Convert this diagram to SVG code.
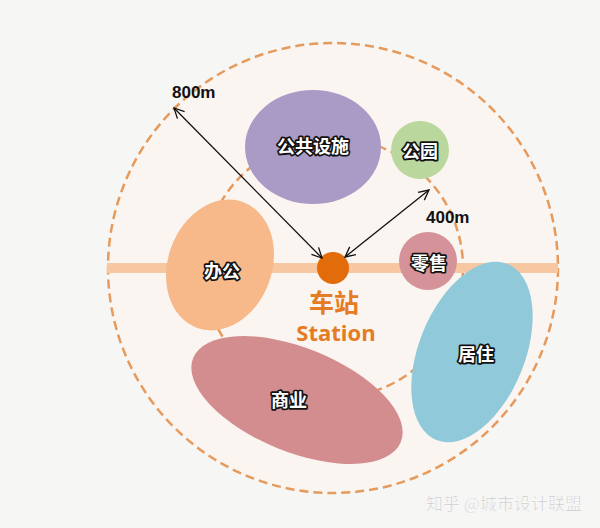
<svg xmlns="http://www.w3.org/2000/svg" width="600" height="528" viewBox="0 0 600 528">
<defs>
<style>
.ring{fill:none;stroke:#e69a5c;stroke-width:2.5;stroke-dasharray:9 5}
.lbl{font-family:"Noto Sans CJK SC","Noto Sans CJK JP",sans-serif;font-weight:700;font-size:18px;fill:#fff;stroke:#111;stroke-width:3.4;paint-order:stroke;stroke-linejoin:round;text-anchor:middle;dominant-baseline:central}
.dist{font-family:"Liberation Sans",Arial,sans-serif;font-weight:700;font-size:17px;fill:#111}
.arr{stroke:#111;stroke-width:1.3;fill:none}
</style>
<marker id="ah" viewBox="0 0 12 12" refX="11" refY="6" markerWidth="12" markerHeight="12" markerUnits="userSpaceOnUse" orient="auto-start-reverse">
<path d="M1,1 L11,6 L1,11" fill="none" stroke="#111" stroke-width="1.3"/>
</marker>
</defs>
<rect width="600" height="528" fill="#f6f6f5"/>
<g id="rings">
<circle cx="333" cy="268" r="225" fill="#faf5f1"/>
<circle class="ring" cx="333" cy="268" r="225"/>
<circle class="ring" cx="333" cy="268" r="130"/>
</g>
<rect id="road" x="107" y="263" width="451" height="10" fill="#f6c7a0"/>
<g id="n-gonggong">
<ellipse cx="313" cy="147" rx="68" ry="57" fill="#a99bc6"/>
<text class="lbl" x="313" y="145">公共设施</text>
</g>
<g id="n-gongyuan">
<circle cx="420" cy="150" r="29" fill="#bad79d"/>
<text class="lbl" x="420" y="150">公园</text>
</g>
<g id="n-lingshou">
<circle cx="428" cy="261" r="29" fill="#d59298"/>
<text class="lbl" x="429" y="262">零售</text>
</g>
<g id="n-bangong">
<ellipse cx="220" cy="265" rx="52" ry="67" transform="rotate(20 220 265)" fill="#f7b98a"/>
<text class="lbl" x="222" y="270">办公</text>
</g>
<g id="n-shangye">
<ellipse cx="297" cy="400" rx="112" ry="52" transform="rotate(22 297 400)" fill="#d48d8f"/>
<text class="lbl" x="289" y="399">商业</text>
</g>
<g id="n-juzhu">
<ellipse cx="472" cy="352" rx="53" ry="95" transform="rotate(22 472 352)" fill="#8fc9da"/>
<text class="lbl" x="476" y="353">居住</text>
</g>
<g id="n-station">
<circle cx="333" cy="268" r="16" fill="#e36c0a"/>
<text x="334" y="312" text-anchor="middle" font-family="Noto Sans CJK SC,sans-serif" font-weight="700" font-size="25" fill="#e57b22">车站</text>
<text x="336" y="341" text-anchor="middle" font-family="Open Sans,sans-serif" font-weight="700" font-size="22" fill="#e57b22">Station</text>
</g>
<g id="connectors">
<line class="arr" x1="322" y1="258" x2="174" y2="108" marker-start="url(#ah)" marker-end="url(#ah)"/>
<line class="arr" x1="345" y1="257" x2="429" y2="190" marker-start="url(#ah)" marker-end="url(#ah)"/>
</g>
<text class="dist" x="172" y="98">800m</text>
<text class="dist" x="426" y="223">400m</text>
<text x="504" y="510" text-anchor="middle" font-family="Noto Sans CJK SC,sans-serif" font-size="17" fill="#c4c4c4" stroke="#fff" stroke-width="0.5">知乎 @城市设计联盟</text>
</svg>
